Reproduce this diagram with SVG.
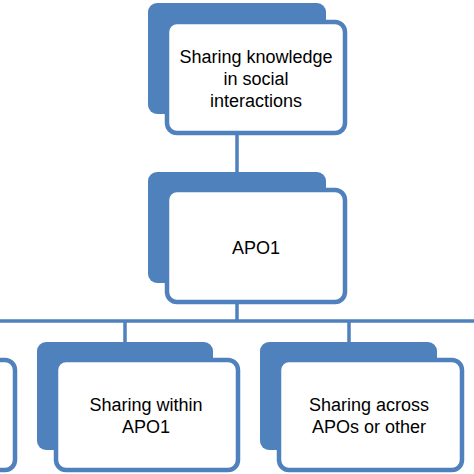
<svg xmlns="http://www.w3.org/2000/svg" width="474" height="474" viewBox="0 0 474 474">
<style>
.back{fill:#4F81BD;}
.front{fill:#FFFFFF;stroke:#4F81BD;stroke-width:4.5;}
.conn{stroke:#4F81BD;stroke-width:3.5;fill:none;}
.lbl{font-family:"Liberation Sans",Arial,sans-serif;font-size:18px;fill:#000000;text-anchor:middle;}
</style>
<rect width="474" height="474" fill="#FFFFFF"/>
<g id="connectors">
<line class="conn" x1="237" y1="133" x2="237" y2="174"/>
<line class="conn" x1="237" y1="302" x2="237" y2="321"/>
<line class="conn" x1="0" y1="321" x2="474" y2="321"/>
<line class="conn" x1="125" y1="321" x2="125" y2="344"/>
<line class="conn" x1="349" y1="321" x2="349" y2="344"/>
</g>
<g id="node-top">
<rect class="back" x="148" y="3" width="178" height="111" rx="9"/>
<rect class="front" x="167" y="22" width="178" height="111" rx="10"/>
<text class="lbl" x="256" y="63">Sharing knowledge</text>
<text class="lbl" x="256" y="85">in social</text>
<text class="lbl" x="256" y="107">interactions</text>
</g>
<g id="node-apo1">
<rect class="back" x="148" y="172" width="178" height="111" rx="9"/>
<rect class="front" x="167" y="190" width="178" height="112" rx="10"/>
<text class="lbl" x="256" y="254">APO1</text>
</g>
<g id="node-left">
<rect class="front" x="-167" y="360" width="182" height="110" rx="10"/>
</g>
<g id="node-within">
<rect class="back" x="37" y="342" width="176" height="108" rx="9"/>
<rect class="front" x="56" y="360" width="182" height="110" rx="10"/>
<text class="lbl" x="146" y="411">Sharing within</text>
<text class="lbl" x="146" y="433">APO1</text>
</g>
<g id="node-across">
<rect class="back" x="260" y="342" width="177" height="108" rx="9"/>
<rect class="front" x="279" y="360" width="183" height="110" rx="10"/>
<text class="lbl" x="369" y="411">Sharing across</text>
<text class="lbl" x="369" y="433">APOs or other</text>
</g>
</svg>
